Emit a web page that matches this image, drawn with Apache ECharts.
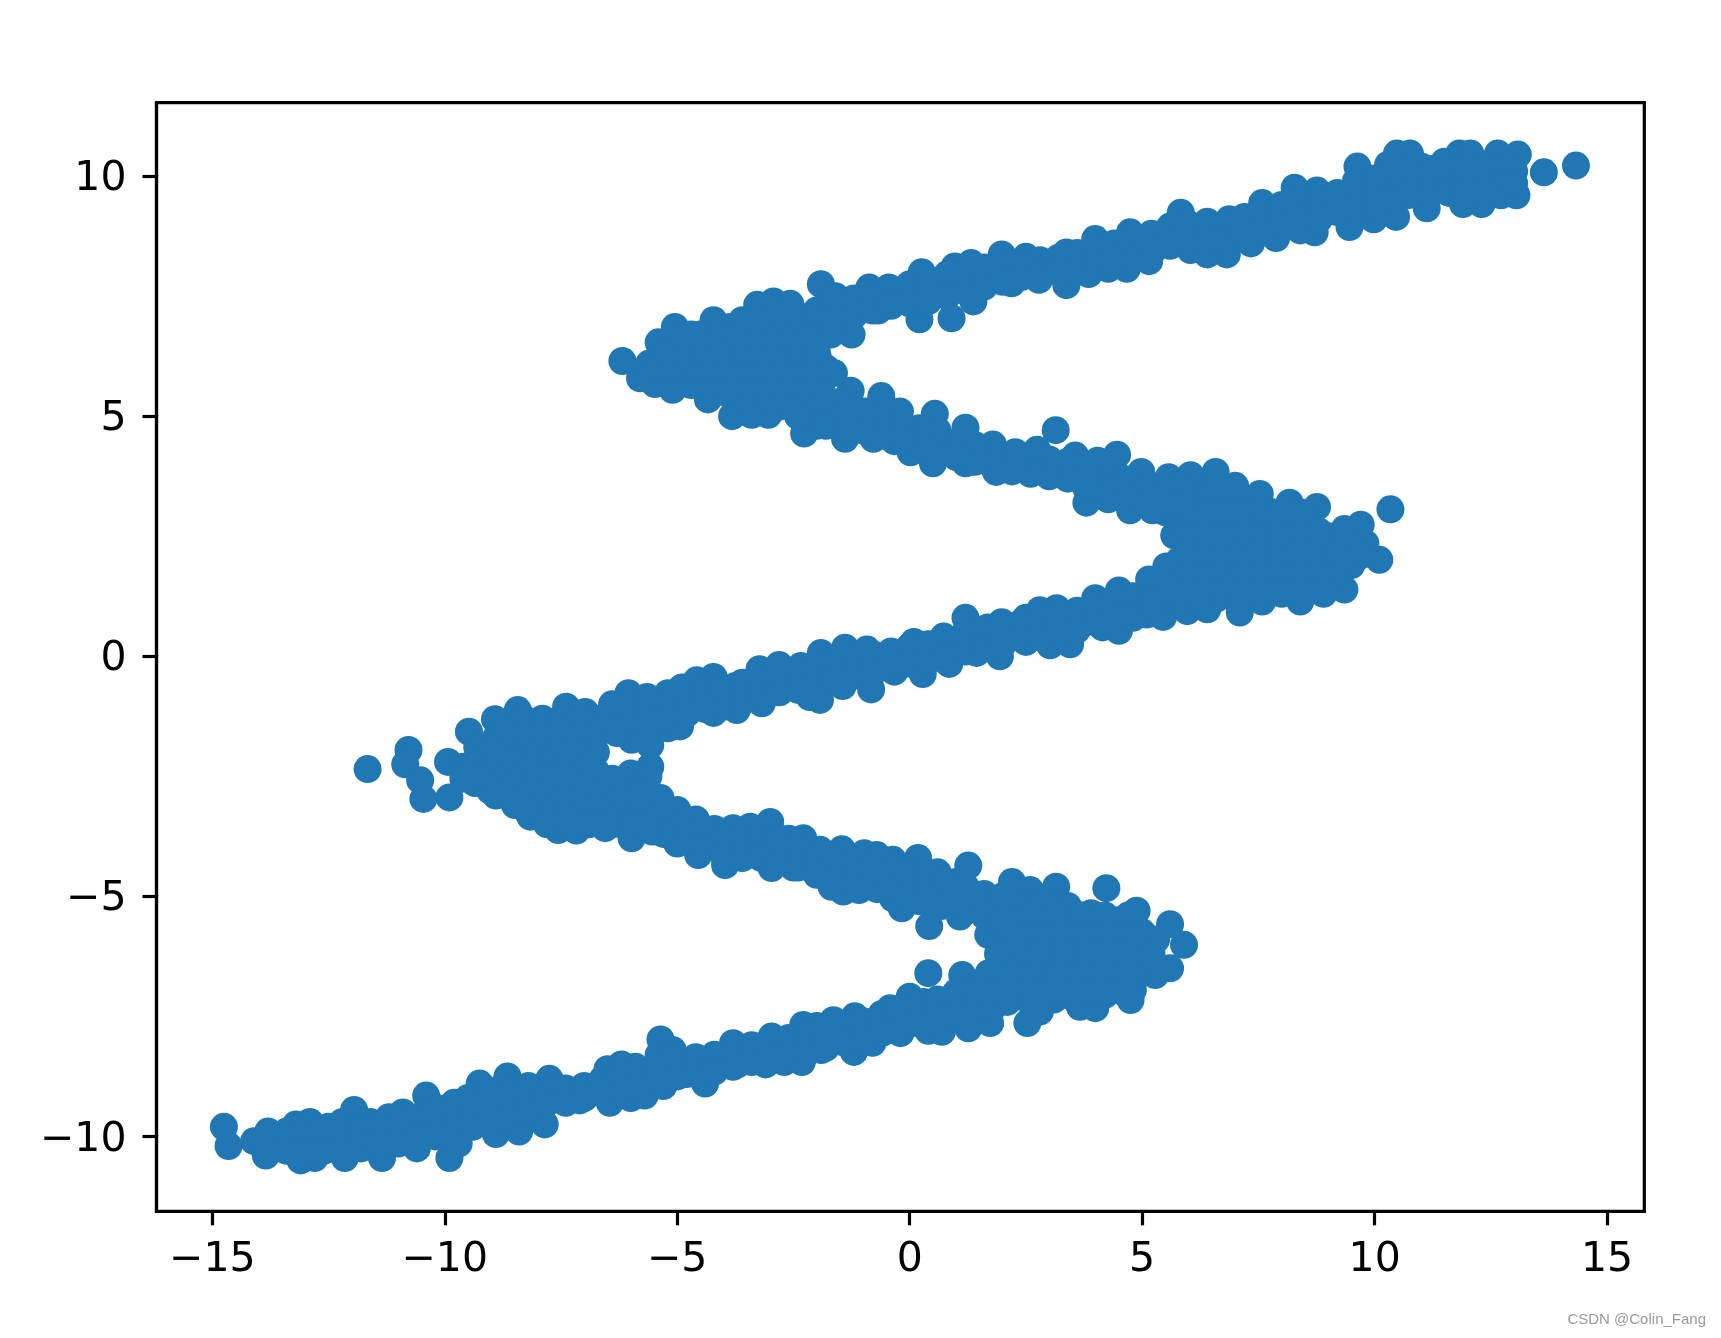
<!DOCTYPE html>
<html><head><meta charset="utf-8">
<style>html,body{margin:0;padding:0;background:#fff}#c{width:1721px;height:1338px}</style>
<script src="https://cdn.jsdelivr.net/npm/echarts@6/dist/echarts.min.js"></script>
</head><body><div id="c"></div>
<script>
const xTickValues = [-15,-10,-5,0,5,10,15];
const yTickValues = [-10,-5,0,5,10];
const bottomArm = [[-14.75,-9.8],[-14.65,-10.2],[-14.1,-10.1],[-13.8,-9.9],[-13.85,-10.4],[-13.2,-9.75],[-12.9,-9.7],[-13.1,-10.5],[-12.8,-10.45],[-12.15,-10.45],[-11.95,-9.45],[-11.35,-10.45],[-10.6,-10.25],[-10.4,-9.15],[-9.9,-10.45],[-9.7,-10.15],[-9.25,-8.9],[-8.9,-9.95],[-8.65,-8.75],[-8.4,-9.9],[-7.85,-9.75],[-7.75,-8.8],[-12.5,-9.8],[-12.2,-9.7],[-11.6,-9.7],[-11.2,-9.6],[-10.9,-9.5],[-10.2,-9.4],[-9.8,-9.3],[-9.5,-9.2],[-13.5,-10.1],[-13,-10.1],[-12.6,-10.1],[-12.2,-10.1],[-11.8,-10.1],[-11.4,-10.1],[-11,-9.95],[-10.6,-9.9],[-10.2,-9.8],[-9.8,-9.7],[-9.4,-9.6],[-9,-9.5],[-8.7,-9.3],[-8.4,-9.2],[-9.1,-9.1],[-8.8,-9],[-8.2,-8.95],[-7.8,-9.05],[-7.5,-9.15],[-7.1,-9.25],[-6.9,-9],[-6.6,-8.95],[-6.5,-8.6],[-6.45,-9.3],[-6.2,-8.5],[-6,-9.2],[-5.9,-8.55],[-5.7,-9.15],[-5.5,-8.6],[-5.35,-8.9],[-5.36,-7.98],[-5.3,-8.95],[-5,-8.5],[-4.8,-8.7],[-4.5,-8.65],[-4.4,-8.9],[-4.1,-8.5],[-3.8,-8.06],[-3.7,-8.5],[-3.3,-8.2],[-3.1,-8.5],[-2.97,-7.92],[-2.7,-8.45],[-2.5,-8.1],[-2.29,-7.68],[-2.32,-8.45],[-2,-7.7],[-1.9,-8.2],[-1.64,-7.58],[-1.45,-8],[-1.18,-7.5],[-1.2,-8.24],[-0.9,-7.8],[-0.8,-8.05],[-0.42,-7.33],[-0.5,-7.8],[-0.2,-7.85],[0,-7.09],[0.3,-7.2],[0.4,-7.8],[0.69,-7.82],[0.4,-6.6],[1.13,-6.64],[1.26,-7.75],[1.73,-7.64],[0.9,-7.3],[1.4,-7.1],[1.7,-6.9],[2.53,-7.64],[-5.1,-8.2],[-5.4,-8.3]];
const bottomArmBody = [[-13.4,-9.9],[-13.4,-10.3],[-13,-9.95],[-13,-10.35],[-12.6,-9.9],[-12.6,-10.3],[-12.2,-9.85],[-12.2,-10.3],[-11.8,-9.85],[-11.8,-10.25],[-11.4,-9.8],[-11.4,-10.2],[-11,-9.7],[-11,-10.15],[-10.6,-9.6],[-10.6,-10.05],[-10.2,-9.5],[-10.2,-10],[-9.8,-9.45],[-9.8,-9.9],[-9.4,-9.3],[-9.4,-9.8],[-9,-9.2],[-9,-9.7],[-8.6,-9.1],[-8.6,-9.6],[-8.2,-9.1],[-8.2,-9.5],[-7.8,-9.1],[-7.8,-9.3],[-7.4,-9],[-7.4,-9.3],[-7,-8.95],[-7,-9.2],[-6.6,-8.8],[-6.6,-9.1],[-6.2,-8.7],[-6.2,-9.05],[-5.8,-8.65],[-5.8,-9],[-5.4,-8.5],[-5.4,-8.85],[-5,-8.35],[-5,-8.75],[-4.6,-8.35],[-4.6,-8.7],[-4.2,-8.3],[-4.2,-8.65],[-3.8,-8.25],[-3.8,-8.55],[-3.4,-8.1],[-3.4,-8.45],[-3,-8],[-3,-8.4],[-2.6,-7.95],[-2.6,-8.3],[-2.2,-7.85],[-2.2,-8.25],[-1.8,-7.8],[-1.8,-8.15],[-1.4,-7.7],[-1.4,-8.05],[-1,-7.6],[-1,-8],[-0.6,-7.45],[-0.6,-7.85],[-0.2,-7.35],[-0.2,-7.75],[0.2,-7.3],[0.2,-7.65],[0.6,-7.15],[0.6,-7.55],[1,-7],[1,-7.45],[1.4,-6.85],[1.4,-7.35],[1.8,-6.6],[1.8,-7.3],[2.2,-6.5],[2.2,-7]];
const lowerRightCluster = [[3.66,-7.3],[3.99,-7.33],[4.75,-7.16],[5.28,-6.64],[5.6,-6.5],[5.9,-6.01],[5.6,-5.58],[4.88,-5.3],[4.23,-4.83],[3.15,-4.8],[2.59,-4.87],[2.2,-4.7],[1.69,-5.8],[1.9,-5.2],[2.4,-5.2],[2.9,-5.15],[3.4,-5.2],[3.9,-5.35],[4.4,-5.5],[2,-5.6],[2.5,-5.6],[3,-5.6],[3.5,-5.6],[4,-5.7],[4.5,-5.8],[5,-5.75],[5.3,-5.9],[2.1,-6],[2.6,-6],[3.1,-6],[3.6,-6],[4.1,-6.1],[4.6,-6.1],[5,-6.2],[2,-6.3],[2.5,-6.4],[3,-6.4],[3.5,-6.4],[4,-6.5],[4.5,-6.5],[4.9,-6.6],[1.9,-6.7],[2.4,-6.8],[2.9,-6.8],[3.4,-6.8],[3.9,-6.9],[4.4,-6.9],[4.8,-6.95],[2.1,-7.2],[2.6,-7.2],[3.1,-7.15],[2.8,-7.4],[3.5,-7.1],[4.2,-7.05]];
const lowerRightBody = [[2.2,-5.4],[2.7,-5.4],[3.2,-5.4],[3.7,-5.4],[4.2,-5.4],[4.7,-5.4],[2.3,-5.8],[2.8,-5.8],[3.3,-5.8],[3.8,-5.8],[4.3,-5.8],[4.8,-5.8],[1.9,-6.2],[2.3,-6.2],[2.8,-6.2],[3.3,-6.2],[3.8,-6.2],[4.3,-6.2],[4.8,-6.2],[5.2,-6.2],[1.7,-6.6],[2.2,-6.6],[2.7,-6.6],[3.2,-6.6],[3.7,-6.6],[4.2,-6.6],[4.7,-6.6],[1.6,-7],[2.1,-7],[2.6,-7],[3.1,-7],[3.6,-7],[4.1,-7],[4.6,-7]];
const lowerMidArm = [[1.26,-4.36],[0.18,-4.2],[-0.36,-4.24],[-0.71,-4.14],[-0.98,-4.1],[-1.46,-4.02],[-1.93,-4.03],[-2.29,-3.79],[-2.97,-4.41],[-3.97,-4.35],[-4.55,-4.14],[0.42,-5.62],[-0.17,-5.25],[1.08,-5.42],[-1.43,-4.9],[-1.09,-4.87],[-1.68,-4.8],[-0.36,-5.04],[-3,-3.45],[-3.43,-3.55],[-3.8,-3.58],[-2.6,-3.8],[-2,-4.2],[-1.6,-4.4],[-1.2,-4.45],[-0.8,-4.5],[-0.4,-4.6],[0,-4.7],[0.4,-4.8],[0.8,-4.85],[1.2,-4.9],[1.6,-5.1],[0.6,-4.5],[1,-4.7],[0.7,-5.2],[0.2,-5.1],[-0.2,-4.95],[-0.7,-4.85],[-3.4,-3.95],[-3,-3.95],[-2.6,-4.1],[-2.3,-4.3],[-2.5,-4.4],[-1.9,-4.55],[-3.6,-4.2],[-4,-3.9],[-4.4,-3.75],[-4.8,-3.6],[-5,-3.9],[-5,-3.2],[-5.36,-2.95],[-5.54,-3.65],[-5.98,-3.79],[-6.55,-3.58],[-5.4,-3.4],[-4.6,-3.4],[-4.2,-3.6],[-5.3,-3.7],[-5.1,-3.55]];
const lowerMidBody = [[-4.8,-3.45],[-4.8,-3.85],[-4.4,-3.6],[-4.4,-4],[-4,-3.75],[-4,-4.15],[-3.6,-3.8],[-3.6,-4.2],[-3.2,-3.8],[-3.2,-4.2],[-2.8,-3.85],[-2.8,-4.25],[-2.4,-4],[-2.4,-4.4],[-2,-4.15],[-2,-4.55],[-1.6,-4.25],[-1.6,-4.65],[-1.2,-4.3],[-1.2,-4.7],[-0.8,-4.4],[-0.8,-4.8],[-0.4,-4.45],[-0.4,-4.85],[0,-4.55],[0,-4.95],[0.4,-4.6],[0.4,-5.05],[0.8,-4.7],[0.8,-5.15],[1.2,-4.8],[1.2,-5.2],[1.6,-4.95],[1.6,-5.4],[2,-5],[2,-5.5]];
const leftCluster = [[-11.66,-2.35],[-10.78,-1.95],[-10.85,-2.25],[-10.46,-2.97],[-9.9,-2.94],[-9.93,-2.2],[-10.53,-2.58],[-9.48,-1.57],[-8.92,-1.31],[-8.43,-1.12],[-7.39,-1.05],[-6.98,-1.16],[-7.17,-3.63],[-7.56,-3.62],[-8.16,-3.34],[-8.49,-3.1],[-9.03,-2.79],[-9.35,-2.64],[-5.98,-1.74],[-5.58,-1.85],[-5.58,-2.3],[-6,-2.44],[-5.62,-2.5],[-9.6,-2.3],[-9.2,-2.2],[-9.3,-1.9],[-8.9,-1.7],[-8.5,-1.5],[-8,-1.5],[-7.6,-1.4],[-7.2,-1.5],[-6.8,-1.55],[-9,-2.4],[-8.6,-2],[-8.2,-1.9],[-7.8,-1.8],[-7.4,-1.85],[-7,-1.9],[-6.75,-2],[-8.7,-2.5],[-8.3,-2.4],[-7.9,-2.3],[-7.5,-2.3],[-7.1,-2.3],[-6.75,-2.4],[-8.4,-2.8],[-8,-2.7],[-7.6,-2.7],[-7.2,-2.7],[-6.8,-2.7],[-6.4,-2.8],[-6,-2.8],[-7.9,-3.1],[-7.5,-3.1],[-7.1,-3.1],[-6.7,-3.1],[-6.3,-3.2],[-5.9,-3.2],[-7.6,-3.35],[-7.1,-3.4],[-6.6,-3.4],[-6.2,-3.5],[-5.7,-3.4]];
const leftBody = [[-8.3,-1.3],[-7.9,-1.3],[-7.5,-1.3],[-7.1,-1.3],[-6.7,-1.3],[-6.3,-1.3],[-5.9,-1.3],[-8.7,-1.6],[-8.3,-1.6],[-7.9,-1.6],[-7.5,-1.6],[-7.1,-1.6],[-6.7,-1.6],[-6.3,-1.6],[-9,-2],[-8,-2],[-7.6,-2],[-7.2,-2],[-9.4,-2.25],[-8.9,-2.25],[-8.5,-2.25],[-8.1,-2.25],[-7.7,-2.25],[-7.3,-2.25],[-6.9,-2.25],[-9.6,-2.55],[-9.2,-2.55],[-8.8,-2.55],[-8.4,-2.55],[-8,-2.55],[-7.6,-2.55],[-7.2,-2.55],[-6.8,-2.55],[-6.4,-2.55],[-8.9,-2.9],[-8.6,-2.9],[-8.2,-2.9],[-7.8,-2.9],[-7.4,-2.9],[-7,-2.9],[-6.6,-2.9],[-6.2,-2.9],[-5.8,-2.9],[-8.2,-3.25],[-7.8,-3.25],[-7.4,-3.25],[-7,-3.25],[-6.6,-3.25],[-6.2,-3.25],[-5.8,-3.25],[-5.4,-3.25],[-7.8,-3.5],[-7.3,-3.5],[-6.9,-3.5],[-6.4,-3.5],[-6,-3.5],[-5.6,-3.5]];
const centerArm = [[-6.05,-0.77],[-5.2,-0.77],[-4.58,-0.5],[-4.22,-0.43],[-3.75,-0.62],[-3.23,-0.27],[-2.81,-0.18],[-2.34,-0.2],[-1.91,0.07],[-1.39,0.18],[-0.92,0.14],[-0.57,-0.05],[0.09,0.3],[0.73,0.41],[1.2,0.8],[1.68,0.6],[1.98,0.71],[2.5,0.8],[2.8,0.96],[3.16,1],[3.99,1.21],[4.5,1.37],[-5.2,-1.5],[-4.94,-1.46],[-4.22,-1.18],[-3.72,-1.12],[-3.18,-0.98],[-2.15,-0.85],[-1.93,-0.91],[-1.44,-0.62],[-0.83,-0.69],[-0.33,-0.32],[0.28,-0.37],[0.85,-0.16],[1.44,0.07],[1.94,0],[2.5,0.3],[3.02,0.23],[3.45,0.25],[4.15,0.6],[4.5,0.53],[-6.4,-1.3],[-6,-1.3],[-5.6,-1.2],[-5.2,-1.1],[-4.8,-1],[-4.4,-0.9],[-4,-0.85],[-3.6,-0.75],[-3.2,-0.6],[-2.8,-0.55],[-2.4,-0.5],[-2,-0.4],[-1.6,-0.3],[-1.2,-0.2],[-0.8,-0.15],[-0.4,-0.05],[0,0],[0.4,0.08],[0.8,0.2],[1.2,0.3],[1.6,0.38],[2,0.42],[2.4,0.55],[2.8,0.6],[3.2,0.65],[3.6,0.75],[4,0.9],[4.4,0.95],[4.8,1],[-5.65,-0.85],[-6.4,-1],[-4.9,-0.65]];
const centerBody = [[-5.6,-1],[-5.6,-1.4],[-5.2,-0.95],[-5.2,-1.3],[-4.8,-0.8],[-4.8,-1.2],[-4.4,-0.7],[-4.4,-1.1],[-4,-0.65],[-4,-1.05],[-3.6,-0.55],[-3.6,-0.95],[-3.2,-0.4],[-3.2,-0.8],[-2.8,-0.35],[-2.8,-0.75],[-2.4,-0.3],[-2.4,-0.7],[-2,-0.2],[-2,-0.6],[-1.6,-0.1],[-1.6,-0.5],[-1.2,0],[-1.2,-0.4],[-0.8,0.05],[-0.8,-0.35],[-0.4,0.1],[-0.4,-0.2],[0,0.2],[0,-0.15],[0.4,0.25],[0.4,-0.1],[0.8,0.35],[0.8,0],[1.2,0.5],[1.2,0.1],[1.6,0.55],[1.6,0.2],[2,0.6],[2,0.25],[2.4,0.7],[2.4,0.4],[2.8,0.75],[2.8,0.4],[3.2,0.85],[3.2,0.45],[3.6,0.95],[3.6,0.55],[4,1.05],[4,0.7],[4.4,1.15],[4.4,0.75],[4.8,1.25],[4.8,0.8]];
const rightCluster = [[5.15,1.6],[5.52,1.87],[5.1,0.87],[5.45,0.82],[5.97,0.94],[6.4,0.98],[7.1,0.91],[7.58,1.14],[8.4,1.14],[9.35,1.39],[10.1,2.01],[10.34,3.06],[9.7,2.74],[9.35,2.65],[8.76,3.11],[8.17,3.2],[7.53,3.38],[7.06,3.38],[5.69,2.52],[9.6,2.2],[9.8,2.35],[9.5,1.9],[9.1,1.7],[9,2.1],[9,2.5],[8.6,1.6],[8.6,2],[8.6,2.4],[8.6,2.8],[8.2,1.4],[8.2,1.8],[8.2,2.2],[8.2,2.6],[8.2,2.95],[7.8,1.4],[7.8,1.8],[7.8,2.2],[7.8,2.6],[7.8,3],[7.4,1.4],[7.4,1.8],[7.4,2.2],[7.4,2.6],[7.4,3],[7,1.2],[7,1.6],[7,2],[7,2.4],[7,2.8],[6.6,1.2],[6.6,1.6],[6.6,2],[6.6,2.4],[6.6,2.8],[6.6,3.2],[6.2,1.2],[6.2,1.6],[6.2,2],[6.2,2.4],[6.2,2.8],[6.2,3.2],[5.8,1.2],[5.8,1.6],[5.8,2],[5.8,2.8],[5.8,3.2],[5.4,1.2],[5.2,1.1]];
const rightBody = [[5.6,1.4],[6,1.4],[6.4,1.4],[6.8,1.4],[6,1.8],[6.4,1.8],[6.8,1.8],[7.2,1.8],[7.6,1.8],[8,1.8],[8.4,1.8],[8.8,1.8],[6,2.2],[6.4,2.2],[6.8,2.2],[7.2,2.2],[7.6,2.2],[8,2.2],[8.4,2.2],[8.8,2.2],[9.2,2.2],[6,2.6],[6.4,2.6],[6.8,2.6],[7.2,2.6],[7.6,2.6],[8,2.6],[8.4,2.6],[8.8,2.6],[6,3],[6.4,3],[6.8,3],[7.2,3],[7.6,3],[8,3],[8.4,3],[7.2,1.3],[7.6,1.3],[8,1.3],[8.4,1.3],[8.9,1.3],[9.4,2.4],[9.7,2.1],[9.3,2],[5.5,3],[6.3,3.5],[5.9,3.65],[6.6,3.5],[7,3.55]];
const upperMidArm = [[6.58,3.84],[6.04,3.77],[5.57,3.73],[4.98,3.84],[4.46,4.2],[4.04,4.07],[3.56,4.18],[3.14,4.71],[2.74,4.3],[2.27,4.25],[1.79,4.41],[1.2,4.76],[0.54,5.05],[-0.21,5.1],[-0.61,5.42],[-1.27,5.53],[3.8,3.2],[4.27,3.27],[4.74,3.04],[5.22,3.04],[1.86,3.84],[1.2,4.02],[0.5,4.02],[0.02,4.25],[-0.33,4.48],[-0.78,4.53],[-1.39,4.53],[-2.27,4.64],[5,3.4],[4.6,3.5],[4.2,3.65],[3.8,3.7],[3.4,3.9],[3,3.95],[2.6,4],[2.2,4.1],[1.6,4.2],[1.2,4.35],[0.8,4.4],[0.4,4.5],[0,4.65],[-0.4,4.8],[-0.8,4.85],[-1.2,4.95],[-1.6,4.9],[-1.9,5.1],[-0.9,5.1],[-1.5,5.3],[-2,4.8]];
const upperMidBody = [[5.8,3.55],[5.8,3.2],[5.4,3.55],[5.4,3.25],[5,3.6],[5,3.2],[4.6,3.7],[4.6,3.35],[4.2,3.85],[4.2,3.5],[3.8,3.9],[3.8,3.5],[3.4,4.05],[3.4,3.7],[3,4.1],[3,3.75],[2.6,4.15],[2.6,3.8],[2.2,4.2],[2.2,3.85],[1.8,4.2],[1.8,3.95],[1.4,4.4],[1.4,4.05],[1,4.45],[1,4.15],[0.6,4.7],[0.6,4.2],[0.2,4.75],[0.2,4.4],[-0.2,4.85],[-0.2,4.5],[-0.6,4.95],[-0.6,4.6],[-1,5.1],[-1,4.7],[-1.4,5.2],[-1.4,4.75],[-1.8,5.35],[-1.8,4.8]];
const upperLeftCluster = [[-1.63,5.9],[-3.04,5.03],[-3.4,5.03],[-3.82,5],[-4.34,5.35],[-5.1,5.55],[-5.48,5.67],[-5.8,5.79],[-6.18,6.15],[-5.4,6.54],[-5.05,6.86],[-4.22,7],[-3.87,6.86],[-3.28,7.32],[-2.93,7.39],[-2.57,7.34],[-1.25,6.7],[-1.91,6.75],[-5.6,6.1],[-5.2,6],[-4.8,5.9],[-4.4,5.8],[-4,5.5],[-3.6,5.4],[-3.2,5.4],[-2.8,5.2],[-2.4,5],[-5.1,6.4],[-4.7,6.3],[-4.3,6.2],[-3.9,6],[-3.5,5.9],[-3.1,5.8],[-2.7,5.6],[-2.3,5.4],[-1.95,5.4],[-4.7,6.7],[-4.3,6.6],[-3.9,6.4],[-3.5,6.3],[-3.1,6.2],[-2.7,6],[-2.3,5.85],[-1.95,5.9],[-3.5,6.8],[-3.1,6.7],[-2.7,6.5],[-2.3,6.3],[-1.98,6.24],[-3,7],[-2.6,6.9],[-2.2,6.9]];
const upperLeftBody = [[-3.4,5.3],[-3,5.3],[-2.6,5.3],[-4.7,5.65],[-4.3,5.65],[-3.9,5.65],[-3.5,5.65],[-3.1,5.65],[-2.7,5.65],[-2.3,5.65],[-1.9,5.65],[-5.4,6],[-5,6],[-4.6,6],[-4.2,6],[-3.8,6],[-3.4,6],[-3,6],[-2.6,6],[-2.2,6],[-1.8,6],[-5.2,6.35],[-4.8,6.35],[-4.4,6.35],[-4,6.35],[-3.6,6.35],[-3.2,6.35],[-2.8,6.35],[-2.4,6.35],[-2,6.35],[-4.9,6.7],[-4.5,6.7],[-4.1,6.7],[-3.7,6.7],[-3.3,6.7],[-2.9,6.7],[-2.5,6.7],[-2.1,6.7],[-1.7,6.7],[-3.6,7],[-3.3,7],[-2.8,7.1],[-2.4,7.1],[-2,7.1],[-1.6,7.1]];
const topArm = [[-1.91,7.75],[-0.87,7.68],[-0.45,7.68],[0.26,8],[0.97,8.12],[1.32,8.19],[1.98,8.37],[2.5,8.32],[3.37,8.41],[3.99,8.69],[4.74,8.83],[5.83,9.24],[6.87,9.1],[7.58,9.44],[8.28,9.76],[8.76,9.7],[9.63,10.2],[10.29,10.24],[10.48,10.47],[10.76,10.47],[11.82,10.47],[12.06,10.47],[12.65,10.47],[13.08,10.45],[13.64,10.08],[14.33,10.22],[13.05,9.6],[12.72,9.6],[12.3,9.42],[11.9,9.42],[11.12,9.33],[10.46,9.15],[9.98,9.1],[9.46,8.94],[8.71,8.83],[8.4,8.87],[7.88,8.71],[7.34,8.6],[6.82,8.37],[6.4,8.37],[6.04,8.46],[5.15,8.23],[4.67,8.07],[4.27,8.07],[3.85,7.96],[3.37,7.73],[2.78,7.84],[2.19,7.77],[1.37,7.39],[0.9,7.04],[0.21,7.02],[-0.68,7.2],[-2,7.2],[-1.6,7.3],[-1.2,7.2],[-0.8,7.5],[-0.4,7.4],[0,7.5],[0.4,7.6],[0.8,7.7],[1.2,7.8],[1.6,7.8],[2,8],[2.4,8],[2.8,8.1],[3.2,8.1],[3.6,8.2],[4,8.3],[4.4,8.45],[4.8,8.45],[5.2,8.6],[5.6,8.75],[6,8.85],[6.4,8.85],[6.8,8.85],[7.2,9],[7.6,9],[8,9.2],[8.4,9.3],[8.8,9.3],[9.2,9.5],[9.6,9.6],[10,9.7],[10.4,9.8],[10.8,9.9],[11.2,10],[11.6,10],[12,10],[12.4,10],[12.8,10],[11,10.2],[10.7,9.6],[11.5,9.7],[12.1,9.8],[12.6,9.85],[13,10.1],[11.5,10.3],[10,9.4]];
const topBody = [[-1.6,7.5],[-1.6,7.05],[-1.2,7.45],[-1.2,7.1],[-0.8,7.4],[-0.8,7.2],[-0.4,7.65],[-0.4,7.3],[0,7.75],[0,7.35],[0.4,7.75],[0.4,7.4],[0.8,7.95],[0.8,7.5],[1.2,8],[1.2,7.6],[1.6,8.1],[1.6,7.7],[2,8.1],[2,7.8],[2.4,8.2],[2.4,7.9],[2.8,8.25],[2.8,7.95],[3.2,8.3],[3.2,8],[3.6,8.4],[3.6,8.05],[4,8.5],[4,8.15],[4.4,8.6],[4.4,8.25],[4.8,8.65],[4.8,8.3],[5.2,8.8],[5.2,8.4],[5.6,8.95],[5.6,8.55],[6,9],[6,8.65],[6.4,9.05],[6.4,8.65],[6.8,9],[6.8,8.65],[7.2,9.15],[7.2,8.8],[7.6,9.2],[7.6,8.85],[8,9.4],[8,9],[8.4,9.55],[8.4,9.1],[8.8,9.5],[8.8,9.1],[9.2,9.65],[9.2,9.25],[9.6,9.9],[9.6,9.35],[10,9.95],[10,9.45],[10.4,10.15],[10.4,9.55],[10.8,10.2],[10.8,9.65],[11.2,10.15],[11.2,9.65],[11.6,10.2],[11.6,9.65],[12,10.2],[12,9.7],[12.4,10.2],[12.4,9.7],[12.8,10.2],[12.8,9.8],[13,9.85]];
const scatterPoints = [].concat(bottomArm, bottomArmBody, lowerRightCluster, lowerRightBody, lowerMidArm, lowerMidBody, leftCluster, leftBody, centerArm, centerBody, rightCluster, rightBody, upperMidArm, upperMidBody, upperLeftCluster, upperLeftBody, topArm, topBody);
const fmt = v => String(v).replace('-', '\u2212');
const fmtY = v => '{t|' + fmt(v) + '}';
const chart = echarts.init(document.getElementById('c'), null, {renderer:'canvas'});
const axisCommon = {
  splitLine:{show:false},
  axisLine:{show:true,onZero:false,lineStyle:{color:'#000',width:3.2}},
};
chart.setOption({
  animation:false,
  backgroundColor:'#fff',
  title:{text:'CSDN @Colin_Fang',right:10,top:1307,textStyle:{color:'#9a9a9a',fontSize:15,fontWeight:'normal',fontFamily:'Liberation Sans'}},
  grid:{left:156.5,top:102.7,width:1487.8,height:1108.6,show:true,borderColor:'#000',borderWidth:3.2,backgroundColor:'transparent'},
  xAxis:Object.assign({type:'value',min:-16.2,max:15.8,
    axisTick:{show:true,length:14,lineStyle:{color:'#000',width:3.2},customValues:xTickValues},
    axisLabel:{customValues:xTickValues,formatter:fmt,fontFamily:'DejaVu Sans',fontSize:41,color:'#000',margin:29}},axisCommon),
  yAxis:Object.assign({type:'value',min:-11.56,max:11.53,
    axisTick:{show:true,length:14,lineStyle:{color:'#000',width:3.2},customValues:yTickValues},
    axisLabel:{customValues:yTickValues,formatter:fmtY,margin:30,
      rich:{t:{fontFamily:'DejaVu Sans',fontSize:41,color:'#000',padding:[7,0,0,0]}}}},axisCommon),
  series:[{type:'scatter',data:scatterPoints,symbolSize:28,itemStyle:{color:'#2077b4',opacity:1},clip:false}]
});
</script></body></html>
